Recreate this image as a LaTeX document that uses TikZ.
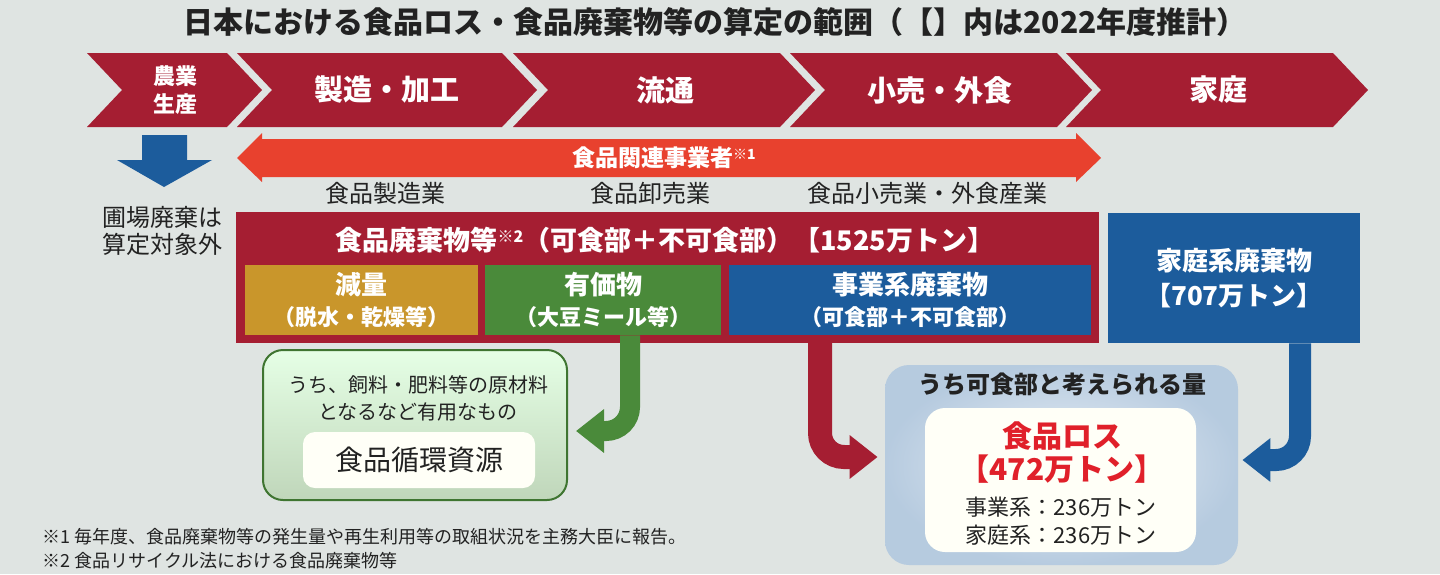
\documentclass[tikz,border=0pt]{standalone}
\usepackage{fontspec}
\setmainfont{Noto Sans CJK JP}
\usetikzlibrary{arrows.meta,positioning}
\definecolor{bgcol}{HTML}{DFE4E2}
\definecolor{chevred}{HTML}{A51E32}
\definecolor{arrred}{HTML}{E8412E}
\definecolor{gold}{HTML}{C9962B}
\definecolor{leafgreen}{HTML}{4A8A3A}
\definecolor{deepblue}{HTML}{1C5C9C}
\definecolor{lossred}{HTML}{E0202A}
\definecolor{txt}{HTML}{222222}

\begin{document}
\begin{tikzpicture}[x=0.5pt, y=-0.5pt,
    every node/.style={inner sep=0pt, text=txt},
    box/.style={rectangle, text=white, align=center, font=\bfseries\fontsize{13}{15.5}\selectfont},
    chevtext/.style={text=white, align=center, font=\bfseries\fontsize{14.5}{17}\selectfont},
    lbl/.style={font=\fontsize{12}{14}\selectfont},
    fatarrow/.style={line width=#1, rounded corners=12pt, -{Triangle[length=14pt, width=21pt]}}]
    \fill[bgcol] (0,0) rectangle (1440,574);
    \node[font=\bfseries\fontsize{15}{18}\selectfont] (title) at (715,22) {日本における食品ロス・食品廃棄物等の算定の範囲（【】内は2022年度推計）};

    \foreach \l/\r in {87/262, 237/537, 513/815, 790/1092, 1066/1368}
        \fill[chevred] (\l,53) -- (\r-35,53) -- (\r,90) -- (\r-35,127) -- (\l,127) -- (\l+35,90) -- cycle;
    \node[chevtext, font=\bfseries\fontsize{11}{14}\selectfont] (nogyo) at (175,90) {農業\\生産};
    \node[chevtext] (seizo) at (387,90) {製造・加工};
    \node[chevtext] (ryutsu) at (665,90) {流通};
    \node[chevtext] (kouri) at (940,90) {小売・外食};
    \node[chevtext] (katei) at (1218,90) {家庭};

    \fill[deepblue] (142,135) -- (187,135) -- (187,160) -- (212,160) -- (164,187) -- (117,160) -- (142,160) -- cycle;
    \node[lbl, align=center, font=\fontsize{12}{13.5}\selectfont] (hojo) at (162,231) {圃場廃棄は\\算定対象外};

    \fill[arrred] (237,158) -- (262,133) -- (262,139) -- (1076,139) -- (1076,133) -- (1101,158) -- (1076,182) -- (1076,177) -- (262,177) -- (262,182) -- cycle;
    \node[text=white, font=\bfseries\fontsize{11.5}{14}\selectfont] (kanren) at (664,158) {食品関連事業者{\fontsize{7}{8}\selectfont\raisebox{3.5pt}{※1}}};
    \node[lbl] (seizogyo) at (385,193) {食品製造業};
    \node[lbl] (oroshi) at (650,193) {食品卸売業};
    \node[lbl] (gaishoku) at (927,193) {食品小売業・外食産業};

    \node[box, fill=chevred, minimum width=431.5pt, minimum height=65.5pt] (haiki) at (667.5,277.5) {};
    \node[text=white, font=\bfseries\fontsize{13.5}{16}\selectfont] (haikititle) at (665,240) {食品廃棄物等{\fontsize{8}{9}\selectfont\raisebox{4pt}{※2}}（可食部＋不可食部）【1525万トン】};
    \node[box, fill=gold, minimum width=116.5pt, minimum height=35pt] (genryo) at (361.5,300) {減量\\\bfseries\fontsize{11}{14}\selectfont （脱水・乾燥等）};
    \node[box, fill=leafgreen, minimum width=118pt, minimum height=35pt] (yuka) at (603,300) {有価物\\\bfseries\fontsize{11}{14}\selectfont （大豆ミール等）};
    \node[box, fill=deepblue, minimum width=181pt, minimum height=35pt] (jigyo) at (910,300) {事業系廃棄物\\\bfseries\fontsize{11}{14}\selectfont （可食部＋不可食部）};
    \node[box, fill=deepblue, minimum width=126pt, minimum height=65pt, font=\bfseries\fontsize{13}{17.5}\selectfont] (kateikei) at (1234,278) {家庭系廃棄物\\【707万トン】};

    \node[draw=leafgreen!85!black, line width=1pt, rounded corners=10pt, top color=green!10!white, bottom color=leafgreen!35!white, minimum width=152pt, minimum height=75pt] (gbox) at (415,425) {};
    \node[align=center, font=\fontsize{10}{13.5}\selectfont] (gtext) at (418,398) {うち、飼料・肥料等の原材料\\となるなど有用なもの};
    \node[fill=white!97!yellow, rounded corners=6pt, minimum width=116pt, minimum height=28pt, font=\fontsize{14}{16}\selectfont] (junkan) at (419,460) {食品循環資源};

    \node[rounded corners=12pt, inner color=deepblue!10!white, outer color=deepblue!32!white, minimum width=176.5pt, minimum height=100pt] (lossouter) at (1061.5,465) {};
    \node[font=\bfseries\fontsize{12}{14}\selectfont] (kashoku) at (1062,384) {うち可食部と考えられる量};
    \node[fill=white!97!yellow, rounded corners=10pt, minimum width=135.5pt, minimum height=72pt] (lossinner) at (1060.5,480) {};
    \node[text=lossred, align=center, font=\bfseries\fontsize{15}{16.5}\selectfont] (loss) at (1062,453) {食品ロス\\【472万トン】};
    \node[align=center, font=\fontsize{11}{14}\selectfont] (lossdetail) at (1061,521) {事業系：236万トン\\家庭系：236万トン};

    \draw[fatarrow=10pt, leafgreen] ([xshift=13.5pt]yuka.south) |- ([xshift=4pt,yshift=-3pt]gbox.east);
    \draw[fatarrow=12pt, chevred] ([xshift=-45pt]jigyo.south) |- ([xshift=-3.5pt,yshift=4pt]lossouter.west);
    \draw[fatarrow=11pt, deepblue] ([xshift=33pt]kateikei.south) |- ([xshift=2pt,yshift=2.5pt]lossouter.east);

    \node[anchor=west, font=\fontsize{9}{11}\selectfont] (note1) at (42,537) {※1 毎年度、食品廃棄物等の発生量や再生利用等の取組状況を主務大臣に報告。};
    \node[font=\fontsize{9}{11}\selectfont, below=3pt of note1.south west, anchor=north west] (note2) {※2 食品リサイクル法における食品廃棄物等};
\end{tikzpicture}
\end{document}
